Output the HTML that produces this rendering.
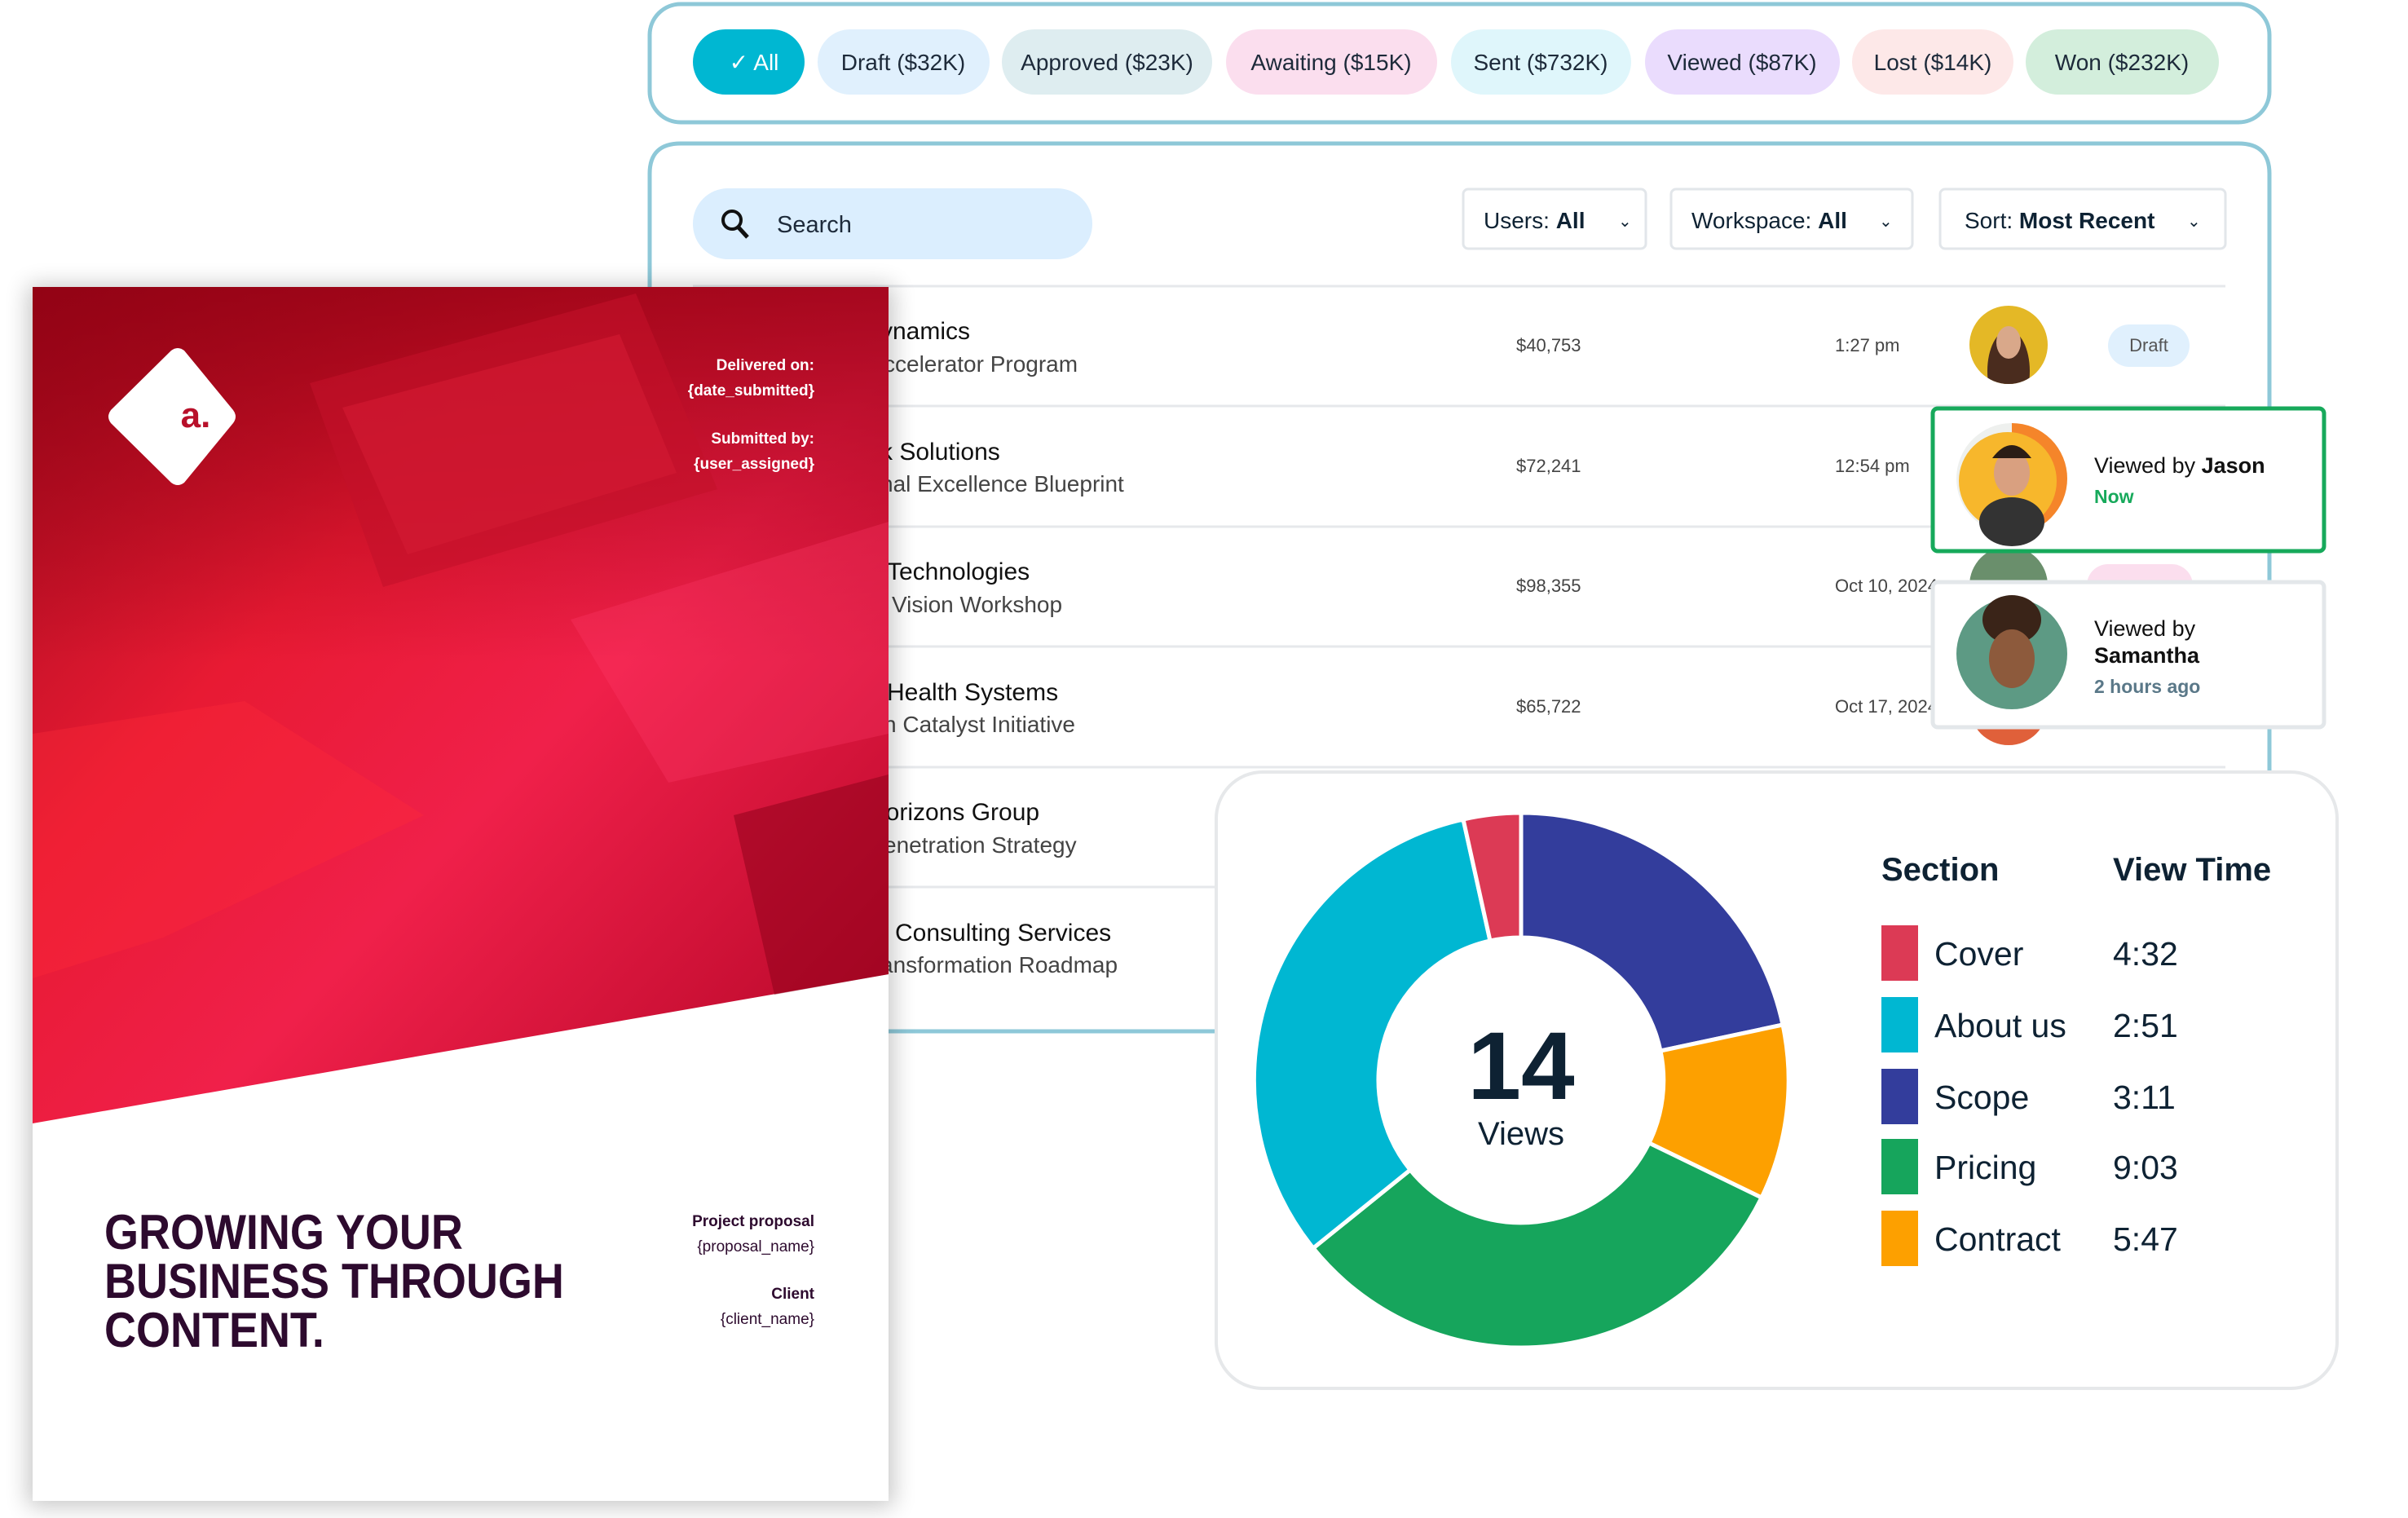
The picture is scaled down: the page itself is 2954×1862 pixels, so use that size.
<!DOCTYPE html>
<html><head><meta charset="utf-8"><style>
html,body{margin:0;padding:0;background:#fff;}
svg{display:block;font-family:"Liberation Sans",sans-serif;}
</style></head><body>
<svg width="2954" height="1862" viewBox="0 0 2954 1862" xmlns="http://www.w3.org/2000/svg">
<defs>
<linearGradient id="red" x1="0" y1="0" x2="1" y2="0.9">
<stop offset="0" stop-color="#a00a1c"/>
<stop offset="0.35" stop-color="#e81a33"/>
<stop offset="0.6" stop-color="#f0204a"/>
<stop offset="1" stop-color="#b8082a"/>
</linearGradient>
<linearGradient id="redtop" x1="0" y1="0" x2="0" y2="1">
<stop offset="0" stop-color="#8e0012" stop-opacity="0.75"/>
<stop offset="0.45" stop-color="#8e0012" stop-opacity="0"/>
</linearGradient>
<filter id="sh" x="-10%" y="-10%" width="120%" height="120%"><feGaussianBlur stdDeviation="14"/></filter>
<filter id="sh2" x="-10%" y="-10%" width="120%" height="130%"><feGaussianBlur stdDeviation="6"/></filter>
<clipPath id="c1"><circle cx="2464" cy="423" r="48"/></clipPath>
</defs>

<!-- top filter box -->
<rect x="797" y="5" width="1987" height="145" rx="38" fill="#fff" stroke="#8ec8d8" stroke-width="5"/>
<g font-size="28" fill="#1d2a3a" text-anchor="middle">
<rect x="850" y="36" width="137" height="80" rx="40" fill="#00b7d2"/>
<text x="925" y="86" fill="#fff">✓ All</text>
<rect x="1003" y="36" width="211" height="80" rx="40" fill="#e0f0fd"/><text x="1108" y="86">Draft ($32K)</text>
<rect x="1229" y="36" width="258" height="80" rx="40" fill="#deedf0"/><text x="1358" y="86">Approved ($23K)</text>
<rect x="1504" y="36" width="259" height="80" rx="40" fill="#fbdeee"/><text x="1633" y="86">Awaiting ($15K)</text>
<rect x="1780" y="36" width="221" height="80" rx="40" fill="#dff6fb"/><text x="1890" y="86">Sent ($732K)</text>
<rect x="2018" y="36" width="239" height="80" rx="40" fill="#eadcfd"/><text x="2137" y="86">Viewed ($87K)</text>
<rect x="2272" y="36" width="198" height="80" rx="40" fill="#fde8e8"/><text x="2371" y="86">Lost ($14K)</text>
<rect x="2485" y="36" width="237" height="80" rx="40" fill="#d3eedc"/><text x="2603" y="86">Won ($232K)</text>
</g>

<!-- list box -->
<path d="M797 1265 L797 213 Q797 176 835 176 L2746 176 Q2784 176 2784 213 L2784 945" fill="#fff" stroke="#8ec8d8" stroke-width="5"/>
<line x1="797" y1="1265" x2="1492" y2="1265" stroke="#8ec8d8" stroke-width="5"/>
<rect x="850" y="231" width="490" height="87" rx="43" fill="#dbeefe"/>
<circle cx="898" cy="270" r="11" fill="none" stroke="#111" stroke-width="4"/>
<line x1="906" y1="279" x2="917" y2="291" stroke="#111" stroke-width="5"/>
<text x="953" y="285" font-size="29" fill="#1d2a3a">Search</text>
<g font-size="28" fill="#0e2233">
<rect x="1795" y="232" width="224" height="73" rx="6" fill="#fff" stroke="#e2e6ea" stroke-width="3"/>
<text x="1820" y="280">Users: <tspan font-weight="bold">All</tspan></text><text x="1985" y="278" font-size="20">⌄</text>
<rect x="2050" y="232" width="296" height="73" rx="6" fill="#fff" stroke="#e2e6ea" stroke-width="3"/>
<text x="2075" y="280">Workspace: <tspan font-weight="bold">All</tspan></text><text x="2305" y="278" font-size="20">⌄</text>
<rect x="2380" y="232" width="350" height="73" rx="6" fill="#fff" stroke="#e2e6ea" stroke-width="3"/>
<text x="2410" y="280">Sort: <tspan font-weight="bold">Most Recent</tspan></text><text x="2683" y="278" font-size="20">⌄</text>
</g>
<g stroke="#e6e8eb" stroke-width="3">
<line x1="850" y1="351" x2="2730" y2="351"/>
<line x1="850" y1="498" x2="2730" y2="498"/>
<line x1="850" y1="646" x2="2730" y2="646"/>
<line x1="850" y1="793" x2="2730" y2="793"/>
<line x1="850" y1="941" x2="2730" y2="941"/>
<line x1="850" y1="1088" x2="1492" y2="1088"/>
</g>
<g font-size="30" fill="#111">
<text x="1080" y="416">ynamics</text>
<text x="1080" y="564">k Solutions</text>
<text x="1088" y="711">Technologies</text>
<text x="1088" y="859">Health Systems</text>
<text x="1080" y="1006">lorizons Group</text>
<text x="1098" y="1154">Consulting Services</text>
</g>
<g font-size="28" fill="#444">
<text x="1084" y="456">ccelerator Program</text>
<text x="1080" y="603">nal Excellence Blueprint</text>
<text x="1094" y="751">Vision Workshop</text>
<text x="1084" y="898">n Catalyst Initiative</text>
<text x="1084" y="1046">enetration Strategy</text>
<text x="1080" y="1193">ansformation Roadmap</text>
</g>
<g font-size="22" fill="#444">
<text x="1860" y="431">$40,753</text>
<text x="1860" y="579">$72,241</text>
<text x="1860" y="726">$98,355</text>
<text x="1860" y="874">$65,722</text>
<text x="2251" y="431">1:27 pm</text>
<text x="2251" y="579">12:54 pm</text>
<text x="2251" y="726">Oct 10, 2024</text>
<text x="2251" y="874">Oct 17, 2024</text>
</g>
<circle cx="2464" cy="423" r="48" fill="#e4b826"/>
<g clip-path="url(#c1)"><ellipse cx="2464" cy="455" rx="26" ry="50" fill="#4a2c1e"/><ellipse cx="2464" cy="420" rx="15" ry="20" fill="#d9a88a"/></g>
<rect x="2586" y="398" width="100" height="52" rx="26" fill="#e0f0fd"/>
<text x="2636" y="431" font-size="22" fill="#555" text-anchor="middle">Draft</text>
<circle cx="2464" cy="718" r="48" fill="#6a8f6c"/>
<rect x="2560" y="692" width="130" height="52" rx="26" fill="#fbdeee"/>
<circle cx="2464" cy="866" r="48" fill="#e0603a"/>

<!-- Jason card -->
<rect x="2371" y="501" width="480" height="175" rx="6" fill="#fff" stroke="#17a95b" stroke-width="5"/>
<circle cx="2468" cy="587" r="68" fill="#eef0ee"/>
<path d="M2468 519 A68 68 0 0 1 2468 655 Z" fill="#f5852a"/>
<circle cx="2463" cy="590" r="60" fill="#f7b72c"/>
<ellipse cx="2468" cy="640" rx="40" ry="30" fill="#333"/>
<ellipse cx="2468" cy="580" rx="22" ry="28" fill="#d9a080"/>
<path d="M2444 562 Q2468 530 2492 562 Z" fill="#2b1d16"/>
<text x="2569" y="580" font-size="27" fill="#111">Viewed by <tspan font-weight="bold">Jason</tspan></text>
<text x="2569" y="617" font-size="23" fill="#17a95b" font-weight="bold">Now</text>

<!-- Samantha card -->
<rect x="2371" y="714" width="480" height="178" rx="6" fill="#fff" stroke="#e3e7ea" stroke-width="5"/>
<circle cx="2468" cy="802" r="68" fill="#5d9a84"/>
<ellipse cx="2468" cy="760" rx="36" ry="30" fill="#3a2418"/>
<ellipse cx="2468" cy="808" rx="28" ry="36" fill="#8d5a3c"/>
<text x="2569" y="780" font-size="27" fill="#111">Viewed by</text>
<text x="2569" y="813" font-size="27" fill="#111" font-weight="bold">Samantha</text>
<text x="2569" y="850" font-size="23" fill="#5a7888" font-weight="bold">2 hours ago</text>

<!-- chart card -->
<rect x="1492" y="947" width="1375" height="756" rx="57" fill="#fff" stroke="#e6e8ea" stroke-width="4"/>
<g stroke="#fff" stroke-width="5">
<path d="M1866 997 A328 328 0 0 1 2187 1257 L2037 1289 A175 175 0 0 0 1866 1150 Z" fill="#333d9c"/>
<path d="M2187 1257 A328 328 0 0 1 2161 1469 L2023 1402 A175 175 0 0 0 2037 1289 Z" fill="#fda000"/>
<path d="M2161 1469 A328 328 0 0 1 1611 1531 L1730 1435 A175 175 0 0 0 2023 1402 Z" fill="#16a55c"/>
<path d="M1611 1531 A328 328 0 0 1 1795 1005 L1828 1154 A175 175 0 0 0 1730 1435 Z" fill="#00b7d2"/>
<path d="M1795 1005 A328 328 0 0 1 1866 997 L1866 1150 A175 175 0 0 0 1828 1154 Z" fill="#dc3a55"/>
</g>
<text x="1866" y="1348" font-size="118" font-weight="bold" fill="#0e2233" text-anchor="middle">14</text>
<text x="1866" y="1404" font-size="40" fill="#0e2233" text-anchor="middle">Views</text>
<g font-size="41" fill="#0e2233">
<text x="2308" y="1080" font-weight="bold" font-size="40">Section</text>
<text x="2592" y="1080" font-weight="bold" font-size="40">View Time</text>
<rect x="2308" y="1135" width="45" height="68" fill="#dc3a55"/><text x="2373" y="1184">Cover</text><text x="2592" y="1184">4:32</text>
<rect x="2308" y="1223" width="45" height="68" fill="#00b7d2"/><text x="2373" y="1272">About us</text><text x="2592" y="1272">2:51</text>
<rect x="2308" y="1311" width="45" height="68" fill="#333d9c"/><text x="2373" y="1360">Scope</text><text x="2592" y="1360">3:11</text>
<rect x="2308" y="1397" width="45" height="68" fill="#16a55c"/><text x="2373" y="1446">Pricing</text><text x="2592" y="1446">9:03</text>
<rect x="2308" y="1485" width="45" height="68" fill="#fda000"/><text x="2373" y="1534">Contract</text><text x="2592" y="1534">5:47</text>
</g>

<!-- cover -->
<rect x="34" y="350" width="1062" height="1498" fill="#000" opacity="0.22" filter="url(#sh)"/>
<rect x="40" y="352" width="1050" height="1489" fill="#fff"/>
<path d="M40 352 H1090 V1195 L40 1378 Z" fill="url(#red)"/>
<path d="M40 352 H1090 V1195 L40 1378 Z" fill="url(#redtop)"/>
<path d="M380 470 L780 360 L880 600 L470 720 Z" fill="#c3102a" opacity="0.6"/>
<path d="M420 500 L760 410 L830 580 L500 680 Z" fill="#d41a34" opacity="0.6"/>
<path d="M700 760 L1090 640 L1090 900 L820 960 Z" fill="#ff3a6a" opacity="0.3"/>
<path d="M40 900 L300 860 L520 1000 L200 1150 L40 1200 Z" fill="#ff2a3a" opacity="0.35"/>
<path d="M900 1000 L1090 950 L1090 1195 L950 1220 Z" fill="#8a0018" opacity="0.5"/>
<path d="M210 430 Q218 424 226 430 L286 503 Q292 511 286 519 L226 592 Q218 598 210 592 L136 519 Q130 511 136 503 Z" fill="#fff"/>
<text x="240" y="524" font-size="44" font-weight="bold" fill="#b8102a" text-anchor="middle">a.</text>
<g font-size="19" font-weight="bold" fill="#fff" text-anchor="end">
<text x="999" y="454">Delivered on:</text>
<text x="999" y="485">{date_submitted}</text>
<text x="999" y="544">Submitted by:</text>
<text x="999" y="575">{user_assigned}</text>
</g>
<g font-size="60" font-weight="bold" fill="#2d0a2e" transform="translate(128 0) scale(0.9 1)">
<text x="0" y="1532">GROWING YOUR</text>
<text x="0" y="1592">BUSINESS THROUGH</text>
<text x="0" y="1652">CONTENT.</text>
</g>
<g font-size="19" fill="#2d0a2e" text-anchor="end">
<text x="999" y="1504" font-weight="bold">Project proposal</text>
<text x="999" y="1535">{proposal_name}</text>
<text x="999" y="1593" font-weight="bold">Client</text>
<text x="999" y="1624">{client_name}</text>
</g>
</svg>
</body></html>
